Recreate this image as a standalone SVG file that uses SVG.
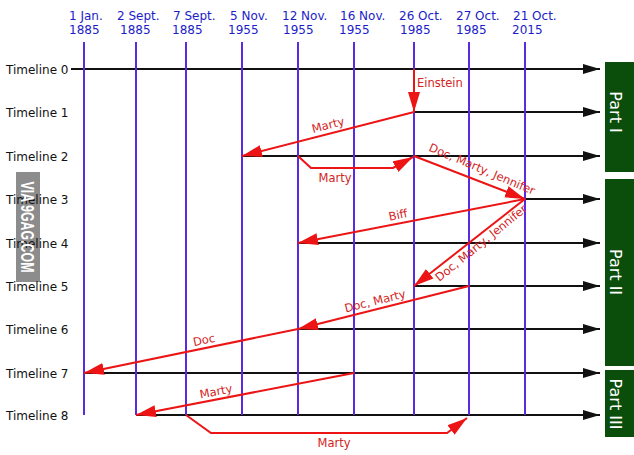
<svg xmlns="http://www.w3.org/2000/svg" width="634" height="455" viewBox="0 0 634 455">
<style>
text{font-family:"DejaVu Sans",Verdana,sans-serif}
.date{font-size:12px;fill:#1c1cc8}
.tl{font-size:12px;fill:#111}
.vl{stroke:#5a2ae2;stroke-width:2}
.hl{stroke:#111;stroke-width:2;marker-end:url(#ba)}
.rl{stroke:#ec1414;stroke-width:2;fill:none;marker-end:url(#ra)}
.lab{font-size:11.5px;fill:#d42424}
.part{fill:#0b4d0b}
.pt{font-size:16px;fill:#fff}
</style>
<defs>
<marker id="ba" markerUnits="userSpaceOnUse" markerWidth="17" markerHeight="10" refX="17" refY="5" orient="auto"><path d="M0,0 L17,5 L0,10 z" fill="#111"/></marker>
<marker id="ra" markerUnits="userSpaceOnUse" markerWidth="20" markerHeight="13" refX="20" refY="6.5" orient="auto"><path d="M0,0.5 L20,6.5 L0,12.5 z" fill="#ec1414"/></marker>
</defs>
<rect width="634" height="455" fill="#fff"/>
<g id="watermark-box"><rect x="16" y="172" width="24" height="110" fill="#8c8c8c"/></g>
<g id="dates">
<text class="date" x="69" y="20">1 Jan.</text><text class="date" x="69" y="34">1885</text>
<text class="date" x="117" y="20">2 Sept.</text><text class="date" x="120" y="34">1885</text>
<text class="date" x="173" y="20">7 Sept.</text><text class="date" x="172" y="34">1885</text>
<text class="date" x="230" y="20">5 Nov.</text><text class="date" x="228" y="34">1955</text>
<text class="date" x="282" y="20">12 Nov.</text><text class="date" x="283" y="34">1955</text>
<text class="date" x="340" y="20">16 Nov.</text><text class="date" x="339" y="34">1955</text>
<text class="date" x="399" y="20">26 Oct.</text><text class="date" x="400" y="34">1985</text>
<text class="date" x="456" y="20">27 Oct.</text><text class="date" x="456" y="34">1985</text>
<text class="date" x="513" y="20">21 Oct.</text><text class="date" x="512" y="34">2015</text>
</g>
<g id="timeline-0"><text class="tl" x="6" y="73.5">Timeline 0</text><line class="hl" x1="71" y1="69" x2="600" y2="69"/></g>
<g id="timeline-1"><text class="tl" x="6" y="116.5">Timeline 1</text><line class="hl" x1="414" y1="112" x2="600" y2="112"/></g>
<g id="timeline-2"><text class="tl" x="6" y="160.5">Timeline 2</text><line class="hl" x1="242" y1="156" x2="600" y2="156"/></g>
<g id="timeline-3"><text class="tl" x="6" y="203.5">Timeline 3</text><line class="hl" x1="525" y1="199" x2="600" y2="199"/></g>
<g id="timeline-4"><text class="tl" x="6" y="247.5">Timeline 4</text><line class="hl" x1="298" y1="243" x2="600" y2="243"/></g>
<g id="timeline-5"><text class="tl" x="6" y="290.5">Timeline 5</text><line class="hl" x1="414" y1="286" x2="600" y2="286"/></g>
<g id="timeline-6"><text class="tl" x="6" y="333.5">Timeline 6</text><line class="hl" x1="298" y1="329" x2="600" y2="329"/></g>
<g id="timeline-7"><text class="tl" x="6" y="377.5">Timeline 7</text><line class="hl" x1="84" y1="373" x2="600" y2="373"/></g>
<g id="timeline-8"><text class="tl" x="6" y="419.5">Timeline 8</text><line class="hl" x1="136" y1="415" x2="600" y2="415"/></g>
<g id="date-lines">
<line class="vl" x1="84" y1="42" x2="84" y2="415"/>
<line class="vl" x1="136" y1="42" x2="136" y2="415"/>
<line class="vl" x1="186" y1="42" x2="186" y2="415"/>
<line class="vl" x1="242" y1="42" x2="242" y2="415"/>
<line class="vl" x1="298" y1="42" x2="298" y2="415"/>
<line class="vl" x1="354" y1="42" x2="354" y2="415"/>
<line class="vl" x1="414" y1="42" x2="414" y2="415"/>
<line class="vl" x1="469" y1="42" x2="469" y2="415"/>
<line class="vl" x1="525" y1="42" x2="525" y2="415"/>
</g>
<g id="connectors">
<path class="rl" d="M414,69 L414,112"/>
<path class="rl" d="M414,112 L242,156"/>
<path class="rl" d="M298,156 L311,168 L393,168 L413,157"/>
<path class="rl" d="M414,156 L525,199"/>
<path class="rl" d="M525,199 L298,243"/>
<path class="rl" d="M525,199 L414,286"/>
<path class="rl" d="M469,286 L298,329"/>
<path class="rl" d="M298,329 L84,373"/>
<path class="rl" d="M354,373 L136,415"/>
<path class="rl" d="M186,415 L211,433 L447,433 L467,418"/>
<text class="lab" x="417" y="87">Einstein</text>
<text class="lab" text-anchor="middle" transform="translate(328,125) rotate(-14.35)" y="4">Marty</text>
<text class="lab" text-anchor="middle" x="335" y="182">Marty</text>
<text class="lab" text-anchor="middle" transform="translate(482,169) rotate(23)" y="4">Doc, Marty, Jennifer</text>
<text class="lab" text-anchor="middle" transform="translate(398,215) rotate(-11)" y="4">Biff</text>
<text class="lab" text-anchor="middle" transform="translate(481,243) rotate(-39)" y="4">Doc, Marty, Jennifer</text>
<text class="lab" text-anchor="middle" transform="translate(375,301) rotate(-14)" y="4">Doc, Marty</text>
<text class="lab" text-anchor="middle" transform="translate(204,340) rotate(-11.6)" y="4">Doc</text>
<text class="lab" text-anchor="middle" transform="translate(216,391.5) rotate(-10.9)" y="4">Marty</text>
<text class="lab" text-anchor="middle" x="334" y="447">Marty</text>
</g>
<g id="part-1"><rect class="part" x="605" y="62" width="29" height="110"/><text class="pt" text-anchor="middle" transform="translate(610,112) rotate(90)">Part I</text></g>
<g id="part-2"><rect class="part" x="605" y="179" width="29" height="187"/><text class="pt" text-anchor="middle" transform="translate(610,272) rotate(90)">Part II</text></g>
<g id="part-3"><rect class="part" x="605" y="370" width="29" height="67"/><text class="pt" text-anchor="middle" transform="translate(610,404) rotate(90)">Part III</text></g>
<g id="watermark"><text transform="translate(21,227) rotate(90)" text-anchor="middle" textLength="91" lengthAdjust="spacingAndGlyphs" style="font-family:'Liberation Sans',Arial,sans-serif;font-weight:bold;font-size:19px;fill:#fff">VIA 9GAG.COM</text></g>
</svg>
